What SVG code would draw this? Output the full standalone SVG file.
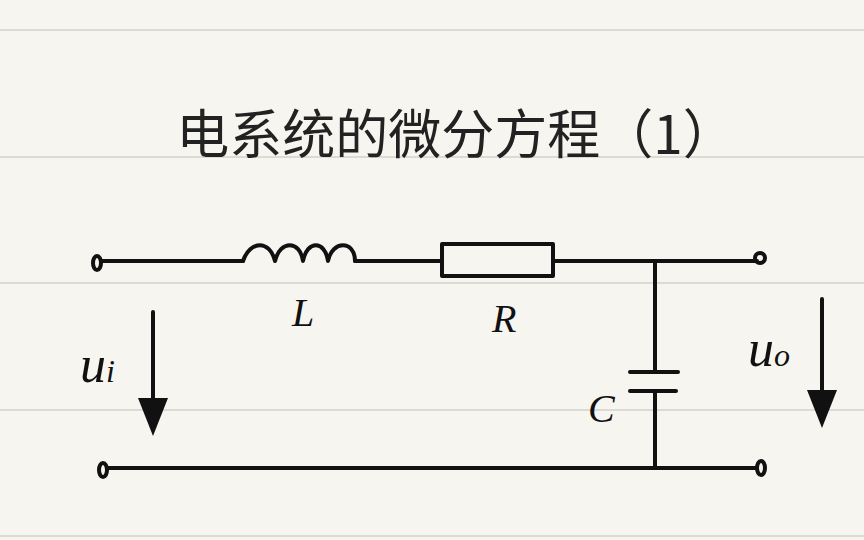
<svg xmlns="http://www.w3.org/2000/svg" width="864" height="540" viewBox="0 0 864 540">
<style>
.w{stroke:#111;stroke-width:4;fill:none;stroke-linecap:round;stroke-linejoin:round}
.n{stroke:#dcdad5;stroke-width:2}
.t{font-family:"Liberation Serif",serif;font-style:italic;fill:#111}
</style>
<rect width="864" height="540" fill="#f7f5f0"/>
<g id="notebook-lines"><line class="n" x1="0" y1="30" x2="864" y2="30"/><line class="n" x1="0" y1="157" x2="864" y2="157"/><line class="n" x1="0" y1="283" x2="864" y2="283"/><line class="n" x1="0" y1="410" x2="864" y2="410"/><line class="n" x1="0" y1="536" x2="864" y2="536"/></g>
<text x="456" y="154" text-anchor="middle" font-family="Noto Sans CJK SC,sans-serif" font-size="53" fill="#222">电系统的微分方程（1）</text>
<g id="connectors">
<path class="w" d="M101 261H243M355 261H442M553 261H757M655 261V371M655 391V468M107 468H757"/>
<line class="w" x1="153" y1="312" x2="153" y2="400"/>
<polygon points="138,398 168,398 153,436" fill="#111"/>
<line class="w" x1="822" y1="299" x2="822" y2="392"/>
<polygon points="807,390 837,390 822,428" fill="#111"/>
</g>
<g id="terminal-in-top"><ellipse class="w" cx="97" cy="263" rx="4" ry="7"/></g>
<g id="terminal-in-bottom"><ellipse class="w" cx="103" cy="470" rx="4" ry="7"/></g>
<g id="terminal-out-top"><circle class="w" cx="760" cy="258" r="5"/></g>
<g id="terminal-out-bottom"><ellipse class="w" cx="761" cy="468" rx="4" ry="7"/></g>
<g id="inductor"><path class="w" d="M243 261C250 240 270 240 275 261C280 240 300 240 303 261C307 240 325 240 328 261C332 240 355 240 355 261"/>
<text class="t" x="292" y="326" font-size="40">L</text></g>
<g id="resistor"><rect class="w" x="442" y="244" width="111" height="32"/>
<text class="t" x="492" y="332" font-size="40">R</text></g>
<g id="capacitor"><line class="w" x1="630" y1="372" x2="678" y2="372"/><line class="w" x1="630" y1="391" x2="676" y2="391"/>
<text class="t" x="588" y="422" font-size="40">C</text></g>
<g id="ui"><text class="t" x="80" y="382" font-size="52">u<tspan font-size="32">i</tspan></text></g>
<g id="uo"><text class="t" x="748" y="366" font-size="52">u<tspan font-size="32">o</tspan></text></g>
</svg>
